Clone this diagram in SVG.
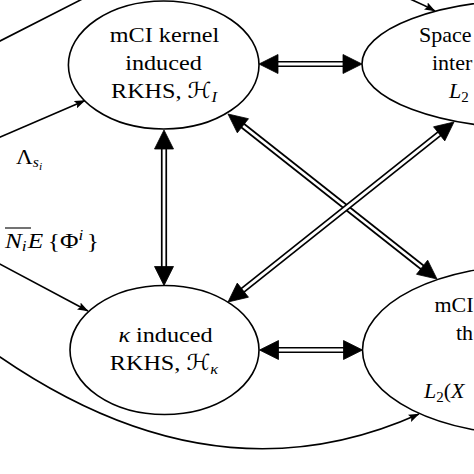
<svg xmlns="http://www.w3.org/2000/svg" width="474" height="474" viewBox="0 0 474 474">
<defs>
<style>
.node{fill:none;stroke:#000;stroke-width:1.6}
.t{font-family:"Liberation Serif","Times New Roman",serif;font-size:22px;fill:#000}
.it{font-style:italic}
.cal{font-family:"DejaVu Serif","DejaVu Sans",serif;font-style:italic}
.dbo{fill:none;stroke:#000;stroke-width:6.2}
.dbi{fill:none;stroke:#fff;stroke-width:2.8}
.head{fill:#000;stroke:#000;stroke-width:0.8;stroke-linejoin:miter}
.thin{fill:none;stroke:#000;stroke-width:1.6}
</style>
<marker id="ar" markerUnits="userSpaceOnUse" viewBox="0 0 11 8" refX="10.5" refY="4" markerWidth="11" markerHeight="8" orient="auto">
<path d="M0,0 L11,4 L0,8 L2,4 z" fill="#000"/>
</marker>
</defs>
<rect x="0" y="0" width="474" height="474" fill="#fff"/>

<g id="node-mci-rkhs">
<ellipse class="node" cx="163.7" cy="65" rx="95.3" ry="64"/>
<text class="t" text-anchor="middle" transform="translate(164.5 41.5) scale(1.1 1)">mCI kernel</text>
<text class="t" text-anchor="middle" transform="translate(163.5 69.5) scale(1.1 1)">induced</text>
<text class="t" text-anchor="middle" transform="translate(164 97.5) scale(1.1 1)">RKHS, <tspan class="cal">ℋ</tspan><tspan class="it" font-size="15" dy="4">I</tspan></text>
</g>

<g id="node-kappa-rkhs">
<ellipse class="node" cx="164.5" cy="350" rx="94.5" ry="64.5"/>
<text class="t" text-anchor="middle" transform="translate(165.5 341.5) scale(1.1 1)"><tspan class="it">κ</tspan> induced</text>
<text class="t" text-anchor="middle" transform="translate(164 369.5) scale(1.1 1)">RKHS, <tspan class="cal">ℋ</tspan><tspan class="it" font-size="15" dy="4">κ</tspan></text>
</g>

<g id="node-intensity-space">
<ellipse class="node" cx="532" cy="64" rx="170" ry="64"/>
<text class="t" x="419" y="41.5">Space</text>
<text class="t" x="432" y="69.5">inter</text>
<text class="t" x="449" y="97.5"><tspan class="it">L</tspan><tspan font-size="15" dy="4">2</tspan></text>
</g>

<g id="node-mci-space">
<ellipse class="node" cx="532.5" cy="350" rx="170" ry="85"/>
<text class="t" x="434.5" y="311.5">mCI</text>
<text class="t" x="456" y="340">th</text>
<text class="t" x="424" y="398"><tspan class="it">L</tspan><tspan font-size="15" dy="4">2</tspan><tspan dy="-4">(</tspan><tspan class="it">X</tspan></text>
</g>

<g id="connectors">
<g id="e-top">
<line class="dbo" x1="276" y1="64" x2="345" y2="64"/>
<line class="dbi" x1="276" y1="64" x2="345" y2="64"/>
<polygon class="head" points="259,64 278,54.5 278,73.5"/>
<polygon class="head" points="362,64 343,54.5 343,73.5"/>
</g>
<g id="e-bottom">
<line class="dbo" x1="276" y1="350" x2="346" y2="350"/>
<line class="dbi" x1="276" y1="350" x2="346" y2="350"/>
<polygon class="head" points="259.5,350 278.5,340.5 278.5,359.5"/>
<polygon class="head" points="362.5,350 343.5,340.5 343.5,359.5"/>
</g>
<g id="e-vertical">
<line class="dbo" x1="164" y1="147" x2="164" y2="269"/>
<line class="dbi" x1="164" y1="147" x2="164" y2="269"/>
<polygon class="head" points="164,130 154.5,149 173.5,149"/>
<polygon class="head" points="164,285.5 154.5,266.5 173.5,266.5"/>
</g>
<g id="e-diag1">
<line class="dbo" x1="241.3" y1="124.5" x2="423.7" y2="268.5"/>
<line class="dbi" x1="241.3" y1="124.5" x2="423.7" y2="268.5"/>
<polygon class="head" points="228,114 237.33,132.83 248.49,118.71"/>
<polygon class="head" points="437,279 416.51,274.29 427.67,260.17"/>
</g>
<g id="e-diag2">
<line class="dbo" x1="241.3" y1="291.4" x2="440.7" y2="132.6"/>
<line class="dbi" x1="241.3" y1="291.4" x2="440.7" y2="132.6"/>
<polygon class="head" points="228,302 248.47,297.2 237.25,283.12"/>
<polygon class="head" points="454,122 444.75,140.88 433.53,126.8"/>
</g>
<path class="thin" d="M-10,46.1 L100,-10 C200,-60 360,-30 435,11" marker-end="url(#ar)"/>
<path class="thin" d="M-10,141.4 L85,100.5" marker-end="url(#ar)"/>
<path class="thin" d="M-10,258.7 L88,311" marker-end="url(#ar)"/>
<path class="thin" d="M-8,350.6 L0,357 C150,460 290,472 419,414" marker-end="url(#ar)"/>
</g>

<g id="label-lambda">
<text class="t" transform="translate(16 164) scale(1.05 1)">Λ<tspan class="it" font-size="15" dy="3">s</tspan><tspan class="it" font-size="11" dy="2.5">i</tspan></text>
</g>
<g id="label-rate">
<line x1="5" y1="228" x2="31" y2="228" stroke="#000" stroke-width="1.1"/>
<text class="t" transform="translate(5 248) scale(1.15 1)"><tspan class="it">N</tspan><tspan class="it" font-size="15" dy="3">i</tspan><tspan class="it" dy="-3" dx="1">E</tspan><tspan dx="4">{</tspan><tspan>Φ</tspan><tspan class="it" font-size="15" dy="-8">i</tspan><tspan dy="8" dx="3">}</tspan></text>
</g>
</svg>
